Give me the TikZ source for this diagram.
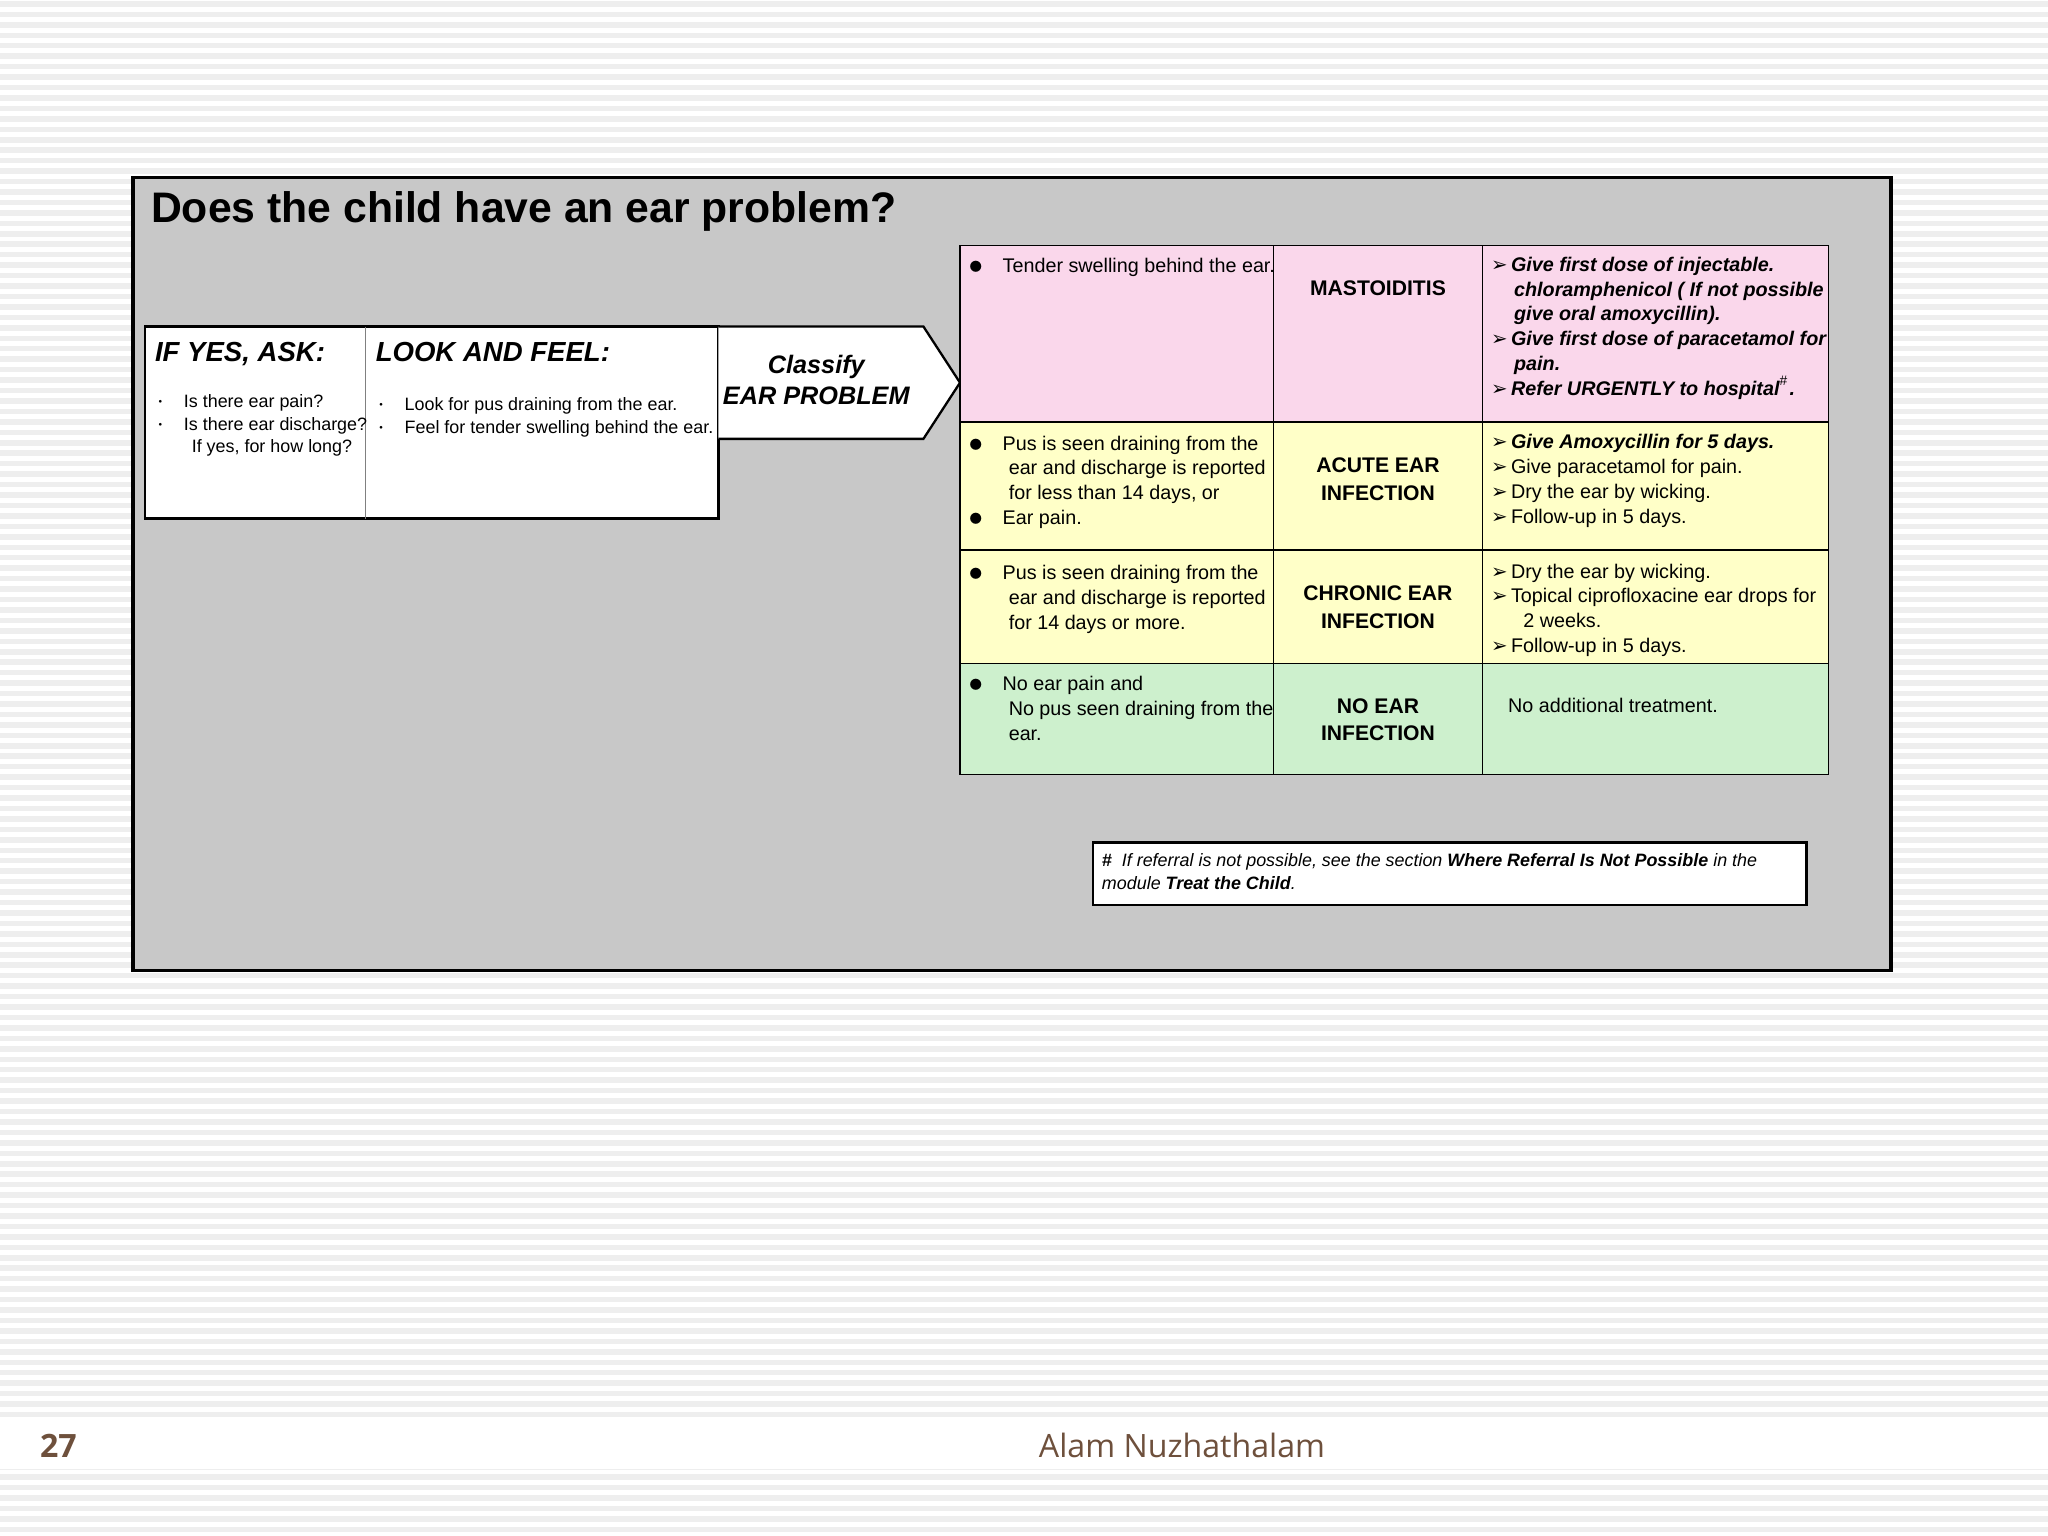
\documentclass[tikz,border=0pt]{standalone}
\usepackage{fontspec}
\setmainfont{Liberation Sans}
\newfontfamily\djsym{DejaVu Sans}
\newfontfamily\ftr{Open Sans}
\definecolor{bggray}{RGB}{200,200,200}
\definecolor{pinkc}{RGB}{250,215,235}
\definecolor{yelc}{RGB}{255,255,200}
\definecolor{grnc}{RGB}{205,240,205}
\definecolor{brn}{RGB}{110,80,60}
\definecolor{stripe}{RGB}{238,238,238}
\newcommand{\ar}{{\djsym\char"27A2}\,}
\tikzset{
 txt/.style={anchor=north west,inner sep=0pt,align=left,font=\fontsize{4.3pt}{5.4pt}\selectfont},
 ctr/.style={anchor=center,inner sep=0pt,align=center,font=\bfseries\fontsize{4.6pt}{6pt}\selectfont},
 cell/.style={draw=black,line width=0.4pt}
}
\begin{document}
\begin{tikzpicture}[x=0.01cm,y=-0.01cm]
\useasboundingbox (0,0) rectangle (1568,1176);
\foreach \i in {0,...,146} \draw[stripe,line width=1.2pt] (0,\i*8+3) -- (1568,\i*8+3);
\fill[white] (0,1085) rectangle (1568,1125);
% main box
\draw[fill=bggray,line width=0.8pt] (102,136) rectangle (1448,743);
\node[anchor=west,inner sep=0pt,font=\bfseries\fontsize{9.3pt}{11pt}\selectfont] (title) at (115,162) {Does the child have an ear problem?};
% left table
\draw[fill=white,line width=0.5pt] (111,250) rectangle (550,397);
\draw[line width=0.3pt,gray] (280,250) -- (280,397);
\node[txt,font=\bfseries\itshape\fontsize{6pt}{7pt}\selectfont] (ask) at (118,261) {IF YES, ASK:};
\node[txt,font=\bfseries\itshape\fontsize{6pt}{7pt}\selectfont] (look) at (287,261) {LOOK AND FEEL:};
\node[txt,font=\fontsize{3.9pt}{5pt}\selectfont] (askq) at (118,301) {$\cdot$\hspace{4pt}Is there ear pain?\\$\cdot$\hspace{4pt}Is there ear discharge?\\\hspace{8pt}If yes, for how long?};
\node[txt,font=\fontsize{3.9pt}{5pt}\selectfont] (lookq) at (287,304) {$\cdot$\hspace{4pt}Look for pus draining from the ear.\\$\cdot$\hspace{4pt}Feel for tender swelling behind the ear.};
% arrow
\draw[fill=white,line width=0.5pt] (550,250) -- (707,250) -- (735,293) -- (707,336) -- (550,336);
\node[anchor=center,inner sep=0pt,align=center,font=\bfseries\itshape\fontsize{5.5pt}{6.6pt}\selectfont] (cls) at (625,291) {Classify\\EAR PROBLEM};
% grid
\foreach \ya/\yb/\c in {188/323/pinkc,323/421/yelc,421/508/yelc,508/593/grnc}{
 \draw[cell,fill=\c] (735,\ya) rectangle (975,\yb);
 \draw[cell,fill=\c] (975,\ya) rectangle (1135,\yb);
 \draw[cell,fill=\c] (1135,\ya) rectangle (1400,\yb);
}
\node[txt] (s1) at (740,197) {$\bullet$\hspace{4pt}Tender swelling behind the ear.};
\node[txt] (s2) at (740,333) {$\bullet$\hspace{4pt}Pus is seen draining from the\\\hspace{9pt}ear and discharge is reported\\\hspace{9pt}for less than 14 days, or\\$\bullet$\hspace{4pt}Ear pain.};
\node[txt] (s3) at (740,432) {$\bullet$\hspace{4pt}Pus is seen draining from the\\\hspace{9pt}ear and discharge is reported\\\hspace{9pt}for 14 days or more.};
\node[txt] (s4) at (740,517) {$\bullet$\hspace{4pt}No ear pain and\\\hspace{9pt}No pus seen draining from the\\\hspace{9pt}ear.};
\node[ctr] (c1) at (1055,221) {MASTOIDITIS};
\node[ctr] (c2) at (1055,367) {ACUTE EAR\\INFECTION};
\node[ctr] (c3) at (1055,465) {CHRONIC EAR\\INFECTION};
\node[ctr] (c4) at (1055,551) {NO EAR\\INFECTION};
\node[txt,font=\bfseries\itshape\fontsize{4.3pt}{5.4pt}\selectfont] (t1) at (1141,196) {\ar Give first dose of injectable.\\\hspace{5pt}chloramphenicol ( If not possible\\\hspace{5pt}give oral amoxycillin).\\\ar Give first dose of paracetamol for\\\hspace{5pt}pain.\\\ar Refer URGENTLY to hospital$^{\#}$.};
\node[txt] (t2) at (1141,332) {\ar\textbf{\textit{Give Amoxycillin for 5 days.}}\\\ar Give paracetamol for pain.\\\ar Dry the ear by wicking.\\\ar Follow-up in 5 days.};
\node[txt] (t3) at (1141,431) {\ar Dry the ear by wicking.\\\ar Topical ciprofloxacine ear drops for\\\hspace{7pt}2 weeks.\\\ar Follow-up in 5 days.};
\node[txt] (t4) at (1154,534) {No additional treatment.};
% footnote
\draw[fill=white,line width=0.5pt] (837,645) rectangle (1383,693);
\node[txt,font=\itshape\fontsize{3.9pt}{5pt}\selectfont] (fn) at (843,653) {\textbf{\#}\ \ If referral is not possible, see the section \textbf{Where Referral Is Not Possible} in the\\module \textbf{Treat the Child}.};
% footer
\node[anchor=west,inner sep=0pt,font=\ftr\bfseries\fontsize{7pt}{8pt}\selectfont,text=brn] (num) at (30,1107) {27};
\node[anchor=center,inner sep=0pt,font=\ftr\fontsize{7pt}{8pt}\selectfont,text=brn] (auth) at (905,1107) {Alam Nuzhathalam};
\end{tikzpicture}
\end{document}
